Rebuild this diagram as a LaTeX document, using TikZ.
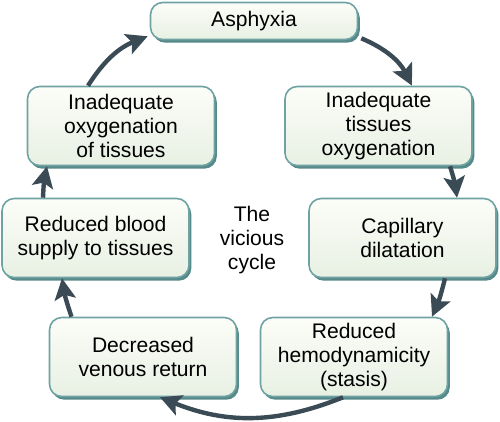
\documentclass[tikz,border=0pt]{standalone}
\usepackage{fontspec}
\setmainfont{Liberation Sans}
\usetikzlibrary{arrows.meta,shadows,shadings}
\definecolor{boxedge}{HTML}{6FA3A3}
\definecolor{boxshade}{HTML}{55898A}
\definecolor{boxtop}{HTML}{FCFDF8}
\definecolor{boxbot}{HTML}{E8F0E3}
\definecolor{cycline}{HTML}{3B4B56}
\tikzset{
  stage/.style={draw=boxedge, line width=0.9pt, rounded corners=7pt,
    top color=boxtop, bottom color=boxbot, align=center,
    minimum width=3.74cm, minimum height=1.58cm, inner sep=2pt,
    font=\fontsize{12}{13.6}\selectfont,
    general shadow={fill=boxshade, shadow xshift=1.3pt, shadow yshift=-1.8pt}},
  cyc/.style={draw=cycline, line width=2.5pt,
    -{Stealth[length=12pt,width=12pt,inset=2.5pt]}}
}
\begin{document}
\begin{tikzpicture}
\useasboundingbox (0,0) rectangle (10,8.44);
\node [stage, minimum width=4.14cm, minimum height=0.74cm] (asph) at (5.08,8.02) {Asphyxia};
\node [stage] (inadtis) at (7.57,5.92) {Inadequate\\tissues\\oxygenation};
\node [stage] (capil) at (8.05,3.68) {Capillary\\dilatation};
\node [stage] (hemo) at (7.08,1.30) {Reduced\\hemodynamicity\\(stasis)};
\node [stage] (venous) at (2.86,1.30) {Decreased\\venous return};
\node [stage] (blood) at (1.91,3.68) {Reduced blood\\supply to tissues};
\node [stage] (inadoxy) at (2.42,5.92) {Inadequate\\oxygenation\\of tissues};
\node [align=center, font=\fontsize{12}{13.6}\selectfont] (centre) at (5.04,3.64) {The\\vicious\\cycle};
\draw [cyc] ([xshift=0.06cm,yshift=0.04cm]asph.south east) to[bend left=20] ([xshift=0.67cm]inadtis.north);
\draw [cyc] ([xshift=1.43cm]inadtis.south) to[bend left=5] ([xshift=1.09cm]capil.north);
\draw [cyc] ([xshift=0.85cm]capil.south) to[bend left=5] ([xshift=1.56cm]hemo.north);
\draw [cyc] ([xshift=-0.22cm]hemo.south) to[bend left=22] ([xshift=0.34cm]venous.south);
\draw [cyc] ([xshift=-1.43cm]venous.north) to[bend left=5] ([xshift=-0.67cm]blood.south);
\draw [cyc] ([xshift=-1.05cm]blood.north) to[bend left=5] ([xshift=-1.48cm]inadoxy.south);
\draw [cyc] ([xshift=-0.66cm]inadoxy.north) to[bend left=18] ([xshift=-0.04cm,yshift=0.08cm]asph.south west);
\end{tikzpicture}
\end{document}
